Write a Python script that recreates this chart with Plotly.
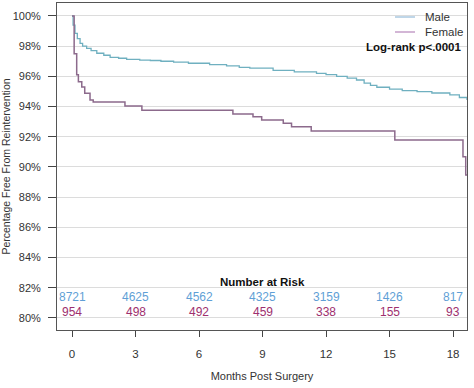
import plotly.graph_objects as go

# Kaplan-Meier style curves
male_months = [0, 0.05, 0.14, 0.25, 0.38, 0.5, 0.69, 0.9, 1.17, 1.5, 1.8, 2.2, 2.58, 3.2, 3.7,
               4.2, 4.8, 5.5, 6.5, 7.3, 7.9, 8.4, 9.5, 10.5, 11.55, 12.0, 12.5, 13.0, 13.44,
               13.8, 14.1, 14.4, 15.0, 15.6, 16.3, 17.0, 17.85, 18.3, 18.66]
male_pct = [100, 99.4, 98.85, 98.5, 98.19, 98.0, 97.86, 97.7, 97.53, 97.4, 97.26, 97.2, 97.13,
            97.08, 97.05, 97.0, 96.95, 96.87, 96.78, 96.7, 96.6, 96.55, 96.4, 96.3, 96.2,
            96.12, 96.0, 95.88, 95.76, 95.55, 95.4, 95.28, 95.15, 95.06, 94.99, 94.9, 94.77,
            94.6, 94.44]

female_months = [0, 0.1, 0.22, 0.3, 0.46, 0.6, 0.85, 1.0, 2.5, 3.3, 7.6, 8.55, 8.96, 9.98,
                 10.37, 11.3, 15.25, 18.47, 18.6, 18.66]
female_pct = [100, 97.5, 96.1, 95.65, 95.3, 94.88, 94.44, 94.3, 94.04, 93.75, 93.5, 93.33,
              93.11, 92.9, 92.67, 92.38, 91.79, 90.68, 89.47, 89.47]

risk_months = [0, 3, 6, 9, 12, 15, 18]
male_at_risk = [8721, 4625, 4562, 4325, 3159, 1426, 817]
female_at_risk = [954, 498, 492, 459, 338, 155, 93]

y_ticks = [80, 82, 84, 86, 88, 90, 92, 94, 96, 98, 100]
y_tick_labels = [f"{v}%" for v in y_ticks]
x_ticks = [0, 3, 6, 9, 12, 15, 18]

MALE_LINE = "#6fb0c0"
FEMALE_LINE = "#8c6a8c"
MALE_TXT = "#5f9fd6"
FEMALE_TXT = "#9e2f6e"
FONT = "Liberation Sans, Arial, sans-serif"

fig = go.Figure()
fig.add_trace(go.Scatter(x=male_months, y=male_pct, mode="lines", line_shape="hv",
                         line=dict(color=MALE_LINE, width=1.3), name="Male", showlegend=False))
fig.add_trace(go.Scatter(x=female_months, y=female_pct, mode="lines", line_shape="hv",
                         line=dict(color=FEMALE_LINE, width=1.5), name="Female", showlegend=False))

annotations = []
annotations.append(dict(x=9, y=82.38, xref="x", yref="y", text="<b>Number at Risk</b>",
                        showarrow=False, yanchor="middle",
                        font=dict(size=11.5, color="#111", family=FONT)))
for m, v in zip(risk_months, male_at_risk):
    annotations.append(dict(x=m, y=81.39, xref="x", yref="y", text=str(v), showarrow=False,
                            yanchor="middle", font=dict(size=12, color=MALE_TXT, family=FONT)))
for m, v in zip(risk_months, female_at_risk):
    annotations.append(dict(x=m, y=80.4, xref="x", yref="y", text=str(v), showarrow=False,
                            yanchor="middle", font=dict(size=12, color=FEMALE_TXT, family=FONT)))

# legend (drawn manually to match compact layout)
def px2paper_x(px):
    return (px - 57) / 410.0

def px2paper_y(py):
    return 1 - (py - 3) / 327.0

shapes = [
    dict(type="line", xref="paper", yref="paper", x0=px2paper_x(395), x1=px2paper_x(415),
         y0=px2paper_y(17), y1=px2paper_y(17), line=dict(color="#9cc0db", width=1.3)),
    dict(type="line", xref="paper", yref="paper", x0=px2paper_x(395), x1=px2paper_x(415),
         y0=px2paper_y(32), y1=px2paper_y(32), line=dict(color="#bb8fc0", width=1.3)),
]
annotations.append(dict(x=px2paper_x(423), y=px2paper_y(17), xref="paper", yref="paper",
                        text="Male", xanchor="left", yanchor="middle", showarrow=False,
                        font=dict(size=11.5, color="#333", family=FONT)))
annotations.append(dict(x=px2paper_x(423), y=px2paper_y(32), xref="paper", yref="paper",
                        text="Female", xanchor="left", yanchor="middle", showarrow=False,
                        font=dict(size=11.5, color="#333", family=FONT)))
annotations.append(dict(x=px2paper_x(464), y=px2paper_y(47), xref="paper", yref="paper",
                        text="<b>Log-rank p<.0001</b>", xanchor="right", yanchor="middle",
                        showarrow=False, font=dict(size=11.5, color="#111", family=FONT)))

fig.update_layout(
    width=474, height=388,
    margin=dict(l=57, r=7, t=3, b=58),
    paper_bgcolor="white", plot_bgcolor="white",
    font=dict(family=FONT, size=11, color="#333"),
    annotations=annotations, shapes=shapes,
    showlegend=False,
)
fig.update_xaxes(range=[-0.71, 18.66], tickvals=x_ticks, ticks="outside", ticklen=6,
                 tickcolor="#444", showgrid=False, showline=True, linecolor="#555",
                 linewidth=1, mirror=True, zeroline=False, ticklabelstandoff=7,
                 title=dict(text="Months Post Surgery", font=dict(size=11, color="#333"),
                            standoff=13),
                 tickfont=dict(size=11.5, color="#333"))
fig.update_yaxes(range=[79.2, 100.86], tickvals=y_ticks, ticktext=y_tick_labels,
                 tickmode="array", ticks="outside",
                 ticklen=8, tickcolor="#444", showgrid=True, gridcolor="#dcdcdc",
                 showline=True, linecolor="#555", linewidth=1, mirror=True, zeroline=False,
                 ticklabelstandoff=5,
                 title=dict(text="Percentage Free From Reintervention",
                            font=dict(size=10.5, color="#333"), standoff=3),
                 tickfont=dict(size=11, color="#333"))

fig.write_html("out.html", config={"displayModeBar": False},
               post_script="document.body.style.margin='0';document.body.style.overflow='hidden';")
